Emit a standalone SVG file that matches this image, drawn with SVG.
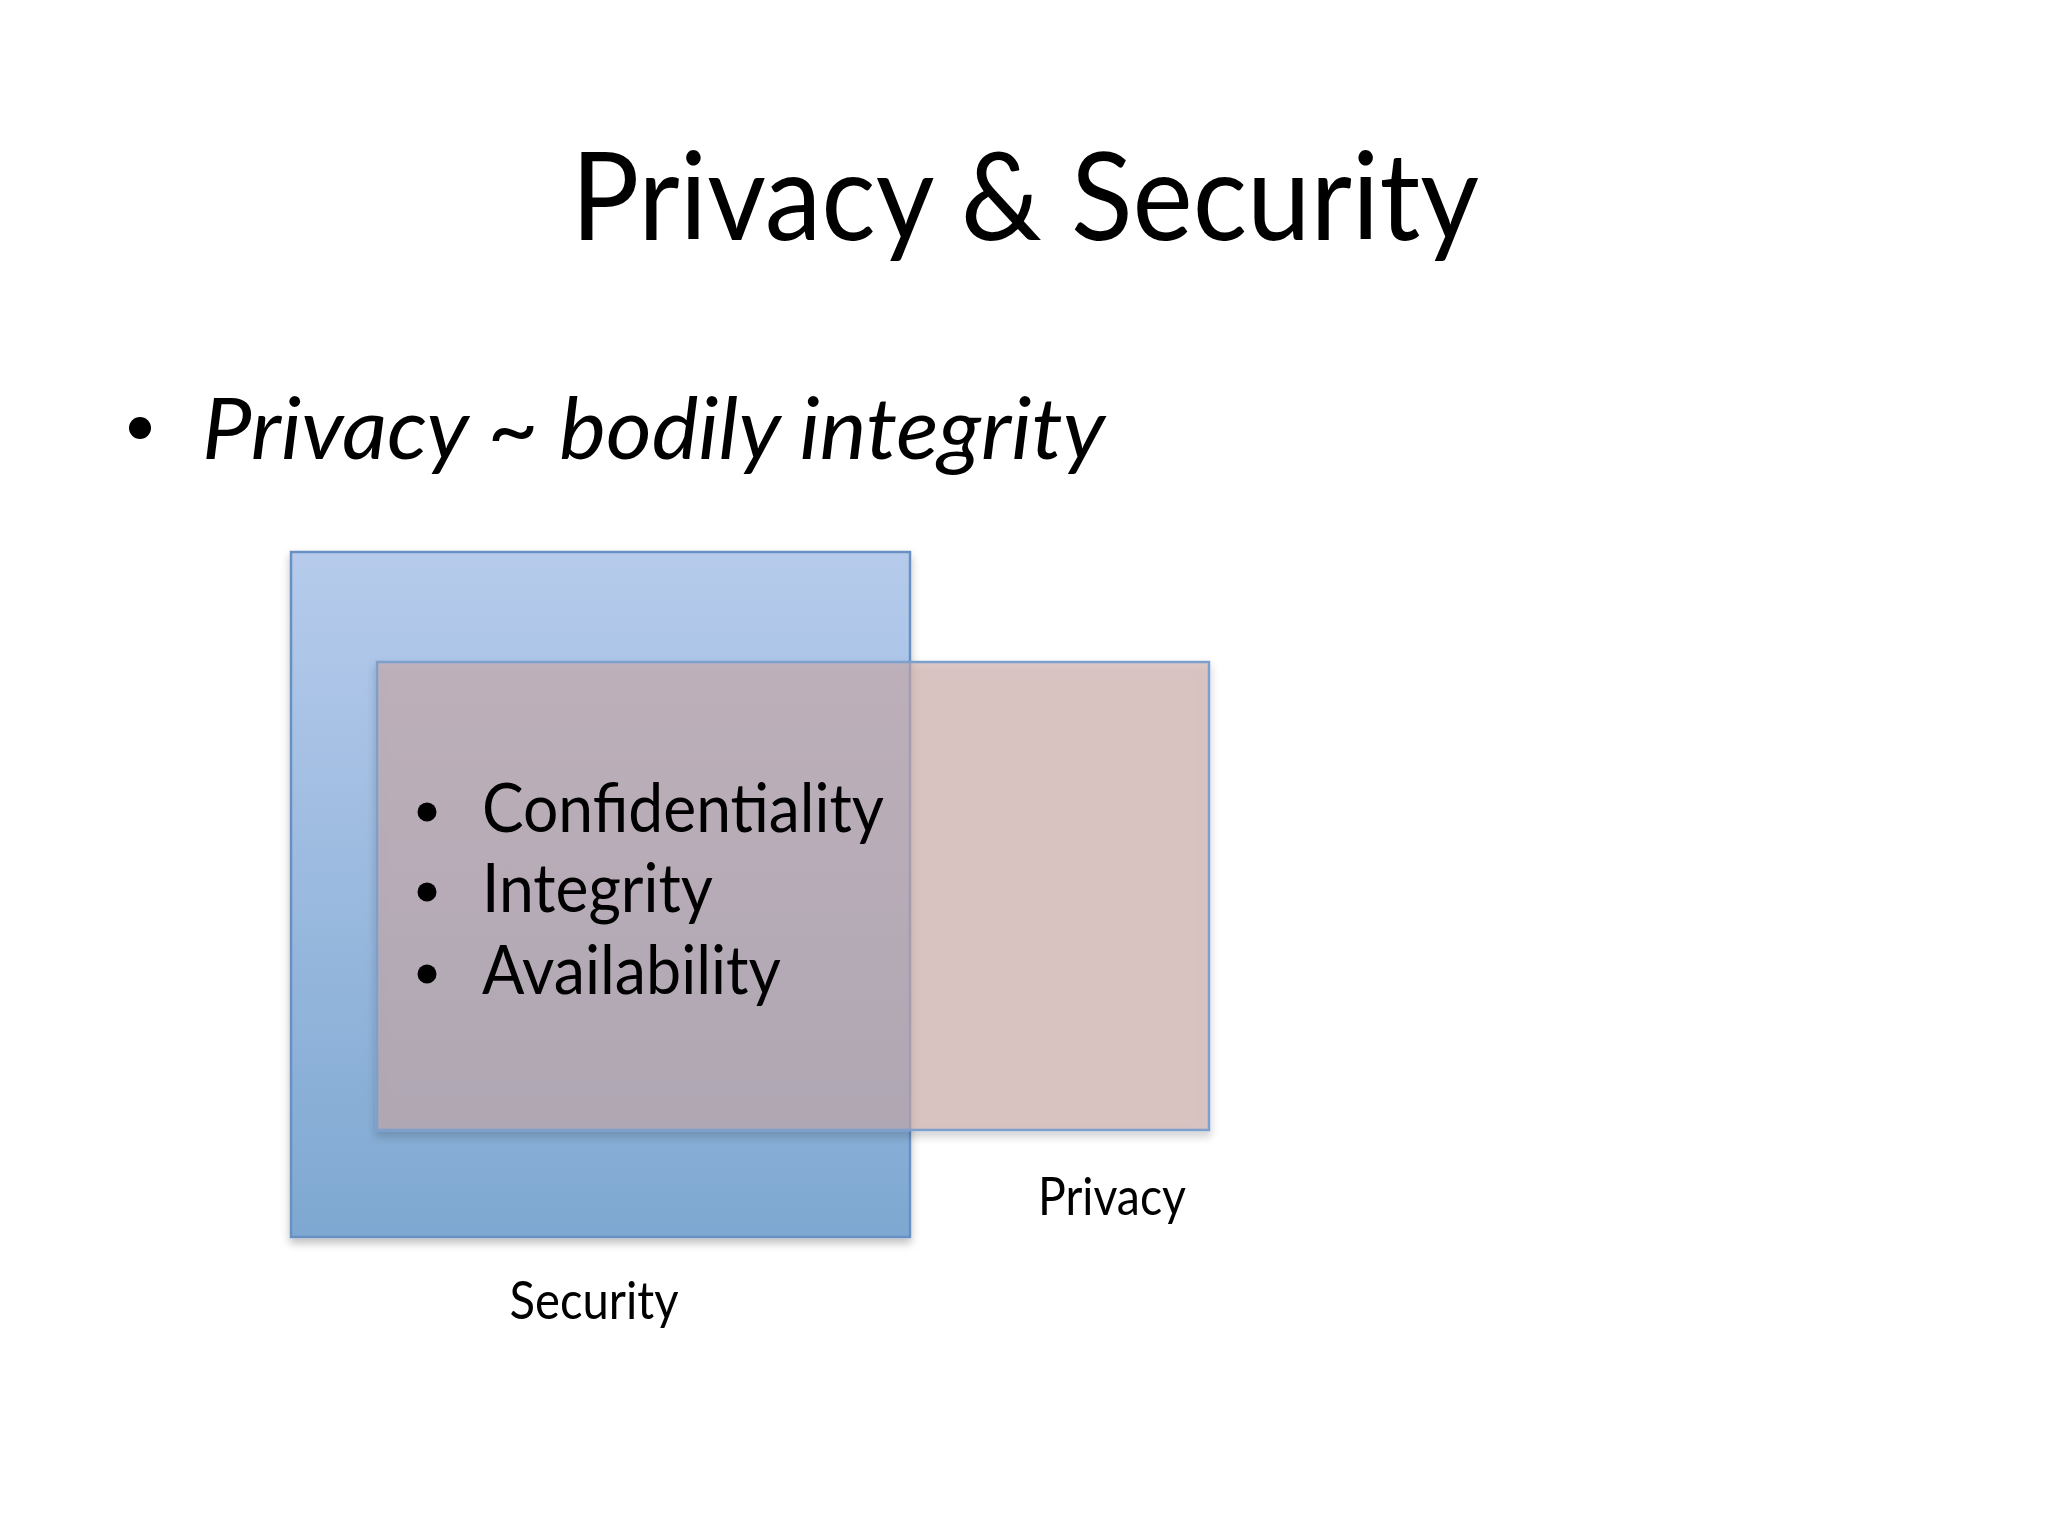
<svg xmlns="http://www.w3.org/2000/svg" width="2048" height="1536" viewBox="0 0 2048 1536">
<defs>
<linearGradient id="secGrad" x1="0" y1="0" x2="0" y2="1">
<stop offset="0" stop-color="#b6cbec"/>
<stop offset="1" stop-color="#7ea8d1"/>
</linearGradient>
<filter id="shadow" x="-5%" y="-5%" width="110%" height="115%">
<feDropShadow dx="0" dy="5" stdDeviation="4" flood-color="#000" flood-opacity="0.25"/>
</filter>
<style>
text{font-family:Lato,"Open Sans","Liberation Sans",sans-serif;fill:#000;}
.title{font-size:122px;}
.lvl1{font-size:86px;font-style:italic;}
.inner{font-size:68px;}
.label{font-size:52px;}
.sec{fill:url(#secGrad);stroke:#6790c3;stroke-width:2.5;}
.priv{fill:#cdaaa8;fill-opacity:0.6;stroke:#7d9fcb;stroke-width:2.5;}
</style>
</defs>
<rect width="2048" height="1536" fill="#ffffff"/>
<text class="title" x="1025" y="240" text-anchor="middle" textLength="908" lengthAdjust="spacingAndGlyphs">Privacy &amp; Security</text>
<circle cx="140" cy="428" r="11" fill="#000"/>
<text class="lvl1" x="202" y="459" textLength="903" lengthAdjust="spacingAndGlyphs">Privacy ~ bodily integrity</text>
<g id="security">
<rect class="sec" x="291" y="552" width="619" height="685" filter="url(#shadow)"/>
<text class="label" x="594" y="1319" text-anchor="middle" textLength="169" lengthAdjust="spacingAndGlyphs">Security</text>
</g>
<g id="privacy">
<rect class="priv" x="377" y="662" width="832" height="468" filter="url(#shadow)"/>
<text class="label" x="1112" y="1215" text-anchor="middle" textLength="148" lengthAdjust="spacingAndGlyphs">Privacy</text>
</g>
<g id="cia">
<circle cx="427" cy="812" r="9.5" fill="#000"/>
<text class="inner" x="482" y="832" textLength="402" lengthAdjust="spacingAndGlyphs">Confidentiality</text>
<circle cx="427" cy="892" r="9.5" fill="#000"/>
<text class="inner" x="482" y="912" textLength="231" lengthAdjust="spacingAndGlyphs">Integrity</text>
<circle cx="427" cy="974" r="9.5" fill="#000"/>
<text class="inner" x="482" y="994" textLength="299" lengthAdjust="spacingAndGlyphs">Availability</text>
</g>
<g id="connectors"/>
</svg>
